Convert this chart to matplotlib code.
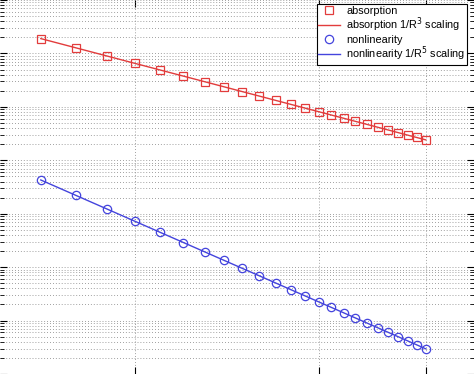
import numpy as np
import matplotlib.pyplot as plt
from matplotlib.ticker import LogLocator, FixedLocator, NullFormatter

# separacion R (los valores de los ejes quedan fuera del recorte)
R = [0.7, 0.8, 0.9, 1.0, 1.1, 1.2, 1.3, 1.4, 1.5, 1.6, 1.7, 1.8,
     1.9, 2.0, 2.1, 2.2, 2.3, 2.4, 2.5, 2.6, 2.7, 2.8, 2.9, 3.0]

# absorcion (cuadrados rojos)
absorption = [0.1895, 0.1270, 0.0892, 0.0650, 0.0488, 0.0376, 0.0296, 0.0237,
              0.0193, 0.0159, 0.0132, 0.0111, 0.00948, 0.00813, 0.00702, 0.00610,
              0.00534, 0.00470, 0.00416, 0.00370, 0.00330, 0.00296, 0.00267, 0.00241]

# no linealidad (circulos azules)
nonlinearity = [4.28e-4, 2.20e-4, 1.219e-4, 7.2e-5, 4.47e-5, 2.89e-5, 1.94e-5, 1.339e-5,
                9.48e-6, 6.87e-6, 5.07e-6, 3.81e-6, 2.91e-6, 2.25e-6, 1.763e-6, 1.397e-6,
                1.119e-6, 9.04e-7, 7.37e-7, 6.06e-7, 5.02e-7, 4.18e-7, 3.51e-7, 2.96e-7]

# rectas de escalado (extremos)
fit_R = [0.7, 3.0]
absorption_fit = [0.1895, 0.00241]
nonlinearity_fit = [4.28e-4, 2.96e-7]

red = '#e23c3c'
blue = '#4444dd'

plt.rcParams['font.family'] = ['Liberation Sans', 'DejaVu Sans']

fig = plt.figure(figsize=(4.74, 3.74), dpi=100)
ax = fig.add_axes([0, 0, 1, 1])

ax.plot(R, absorption, 's', color=red, mfc='none', ms=5.5, mew=0.9, label='absorption', zorder=3)
ax.plot(fit_R, absorption_fit, '-', color=red, lw=1.0, label='absorption 1/R$^3$ scaling', zorder=2)
ax.plot(R, nonlinearity, 'o', color=blue, mfc='none', ms=6, mew=0.9, label='nonlinearity', zorder=3)
ax.plot(fit_R, nonlinearity_fit, '-', color=blue, lw=1.0, label='nonlinearity 1/R$^5$ scaling', zorder=2)

ax.set_xscale('log')
ax.set_yscale('log')
ax.set_xlim(0.6, 3.6)
ax.set_ylim(1e-7, 1e0)

ax.xaxis.set_major_locator(FixedLocator([1, 2, 3]))
ax.xaxis.set_minor_locator(FixedLocator([]))
ax.yaxis.set_major_locator(LogLocator(base=10, numticks=20))
ax.yaxis.set_minor_locator(LogLocator(base=10, subs=np.arange(2, 10), numticks=20))
ax.xaxis.set_major_formatter(NullFormatter())
ax.xaxis.set_minor_formatter(NullFormatter())
ax.yaxis.set_major_formatter(NullFormatter())
ax.yaxis.set_minor_formatter(NullFormatter())

ax.tick_params(which='both', direction='in', top=True, right=True, color='k')
ax.tick_params(which='major', length=5, width=0.8)
ax.tick_params(which='minor', length=3, width=0.6)

ax.grid(True, which='major', axis='both', color='#808080', lw=0.6, linestyle=(0, (1, 2.5)))
ax.grid(True, which='minor', axis='y', color='#808080', lw=0.6, linestyle=(0, (1, 2.5)))

for s in ax.spines.values():
    s.set_visible(False)

leg = ax.legend(loc='upper right', bbox_to_anchor=(467 / 474, 1 - 4 / 374),
                bbox_transform=fig.transFigure, fontsize=7.8, frameon=True,
                fancybox=False, edgecolor='k', framealpha=1, borderpad=0.15,
                labelspacing=0.02, handlelength=2.0, handletextpad=0.6, borderaxespad=0)
leg.get_frame().set_linewidth(0.8)

fig.savefig('out.png', dpi=100)
